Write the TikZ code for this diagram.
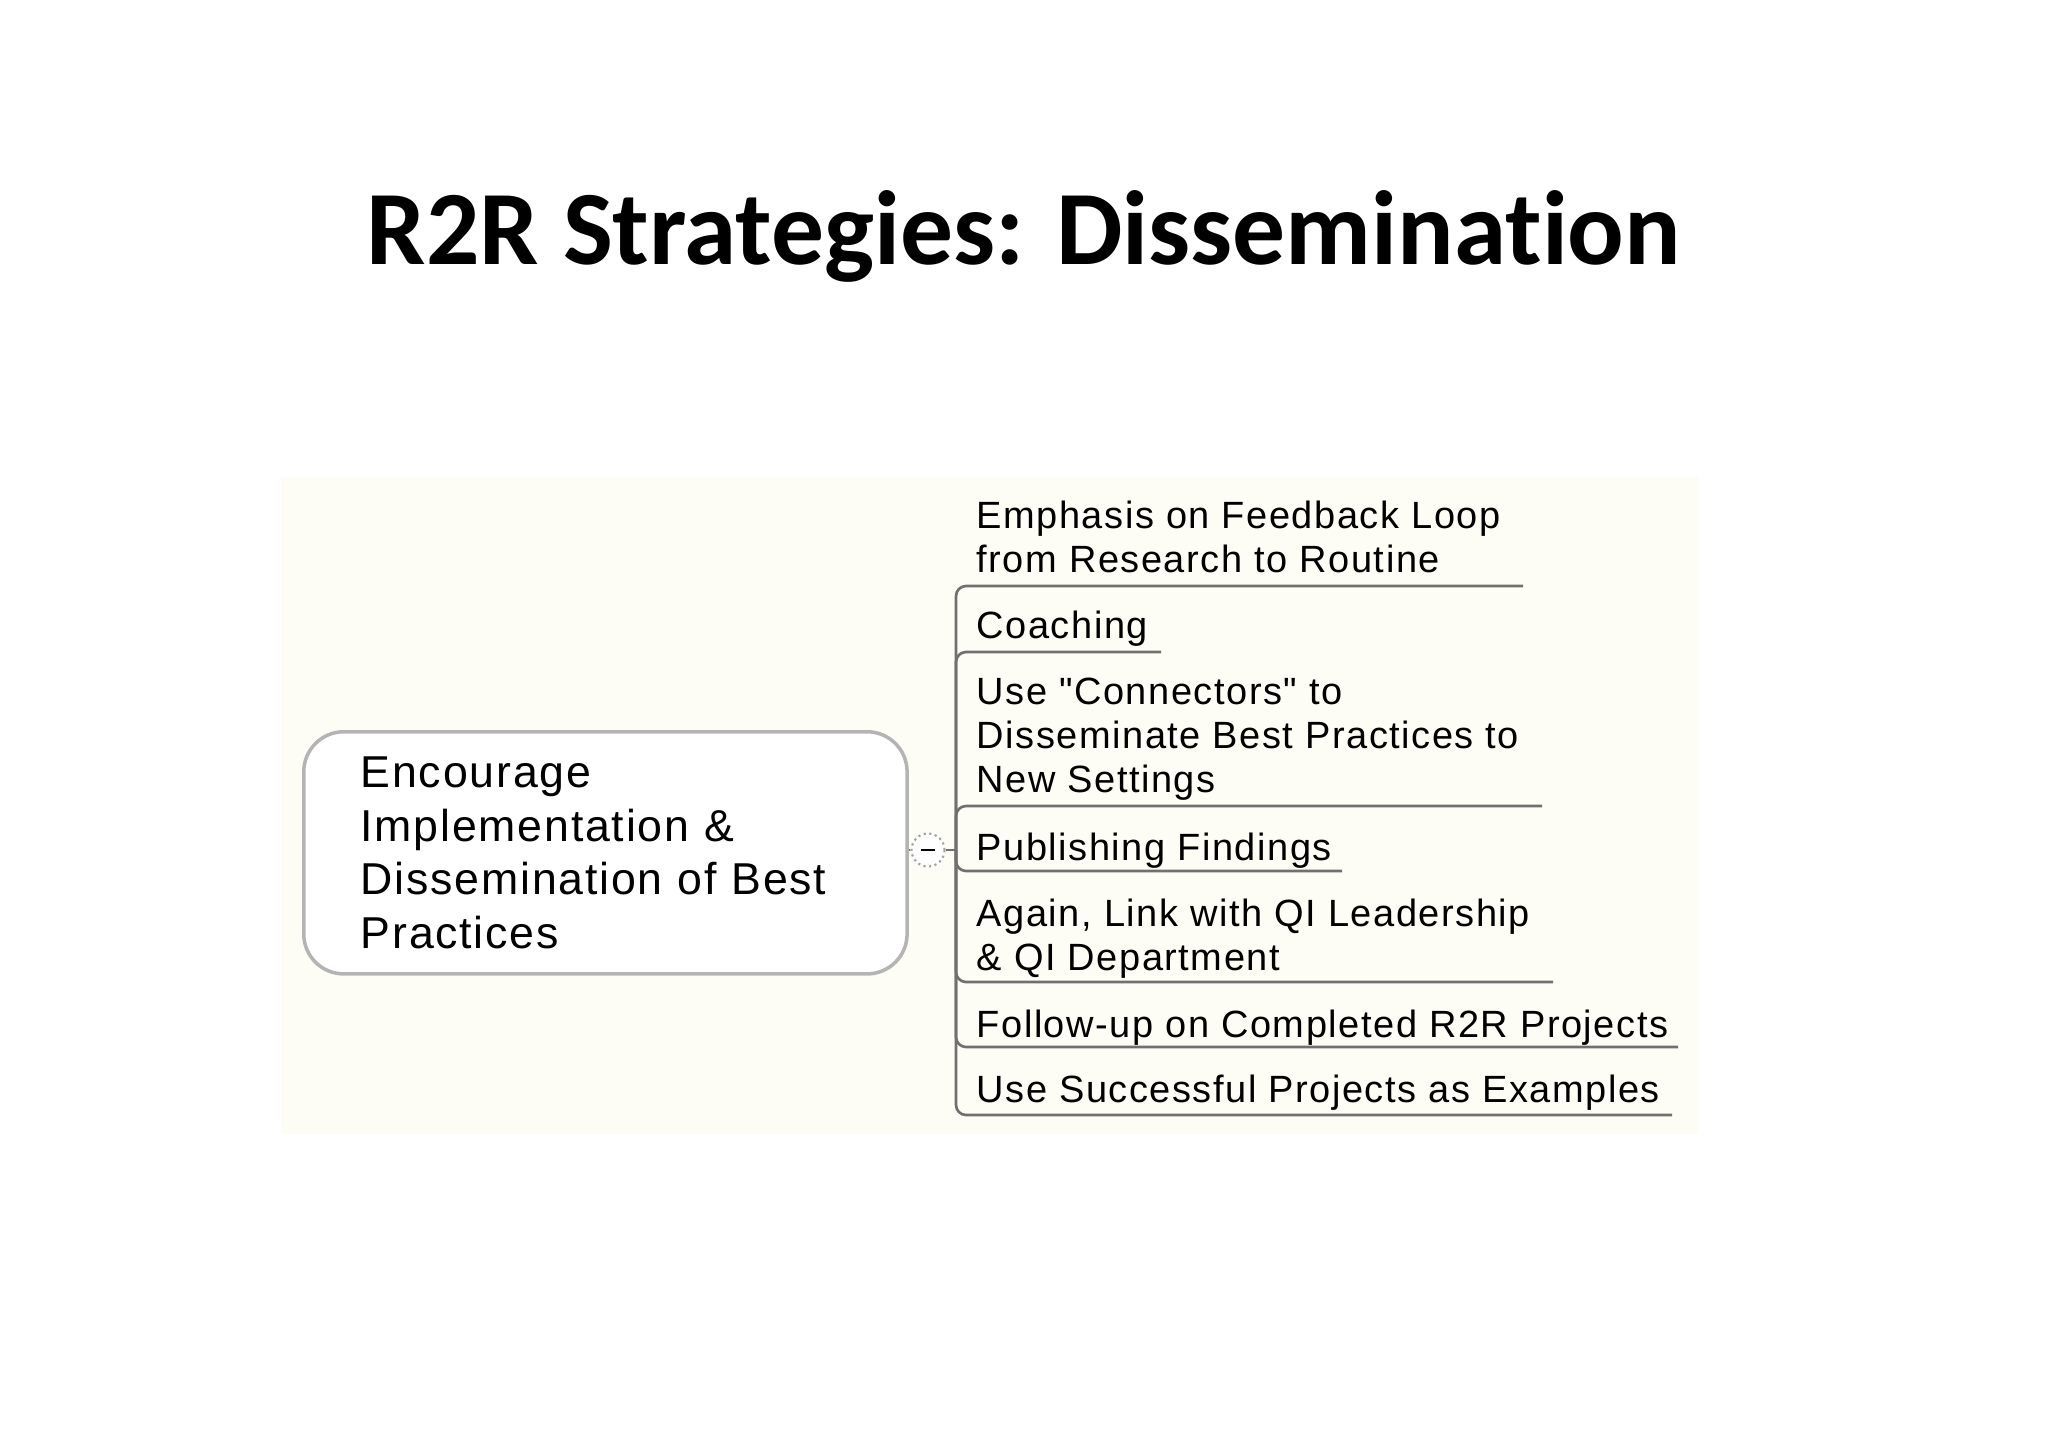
\documentclass[tikz,border=0pt]{standalone}
\usepackage{fontspec}
\setmainfont{Liberation Sans}
\newfontfamily\titlefont[Ligatures={NoCommon}]{Carlito}
\newfontfamily\mapfont[LetterSpace=4]{Liberation Sans}
\usetikzlibrary{calc}
\definecolor{panelbg}{RGB}{253,253,245}
\definecolor{linegray}{RGB}{112,112,112}
\definecolor{boxgray}{RGB}{180,180,180}
\definecolor{toggray}{RGB}{160,160,160}
\tikzset{
  mainbox/.style={draw=boxgray, line width=1pt, fill=white, rounded corners=0.4cm,
    anchor=north west, minimum width=6.03cm, minimum height=2.42cm,
    inner xsep=0.57cm, inner ysep=0pt, align=left, text width=4.89cm,
    font=\mapfont\fontsize{12.7}{15.28}\selectfont},
  branch/.style={anchor=base west, align=left, inner sep=0pt,
    font=\mapfont\fontsize{10.8}{12.38}\selectfont},
  toggle/.style={circle, draw=toggray, densely dotted, line width=0.6pt, fill=white,
    minimum size=0.33cm, inner sep=0pt},
  conn/.style={draw=linegray, line width=0.75pt},
  twig/.style={draw=linegray, line width=0.75pt, rounded corners=0.1cm}
}
\begin{document}
\begin{tikzpicture}[x=0.01cm,y=-0.01cm]
\useasboundingbox (0,0) rectangle (2048,1448);
\fill[white] (0,0) rectangle (2048,1448);
\fill[panelbg] (281,477) rectangle (1698,1134);

\node[anchor=base, font=\titlefont\bfseries\fontsize{30}{36}\selectfont] (title) at (1024,264) {R2R Strategies: Dissemination};

\node[mainbox] (main) at (302,730) {Encourage\\Implementation \&\\Dissemination of Best\\Practices};

\node[toggle] (tog) at (928,850) {};
\draw[line width=0.8pt] ($(tog.center)+(-7,0)$) -- ($(tog.center)+(7,0)$);
\coordinate (trunk) at (956,850);
\draw[conn] (main.east |- tog.west) -- (tog.west);
\draw[conn] (tog.east) -- (trunk);

% anchor = baseline of the last line
\node[branch] (b1) at (976,572) {Emphasis on Feedback Loop\\from Research to Routine};
\node[branch] (b2) at (976,638) {Coaching};
\node[branch] (b3) at (976,792) {Use "Connectors" to\\Disseminate Best Practices to\\New Settings};
\node[branch] (b4) at (976,860) {Publishing Findings};
\node[branch] (b5) at (976,970) {Again, Link with QI Leadership\\\& QI Department};
\node[branch] (b6) at (976,1037) {Follow-up on Completed R2R Projects};
\node[branch] (b7) at (976,1102) {Use Successful Projects as Examples};

\coordinate (e1) at (1523,586);
\coordinate (e2) at (1161,652);
\coordinate (e3) at (1542,806);
\coordinate (e4) at (1342,871);
\coordinate (e5) at (1553,982);
\coordinate (e6) at (1678,1047);
\coordinate (e7) at (1672,1115);

\foreach \e in {e1,e2,e3,e4,e5,e6,e7}{
  \draw[twig] (trunk) |- (\e);
}
\end{tikzpicture}
\end{document}
